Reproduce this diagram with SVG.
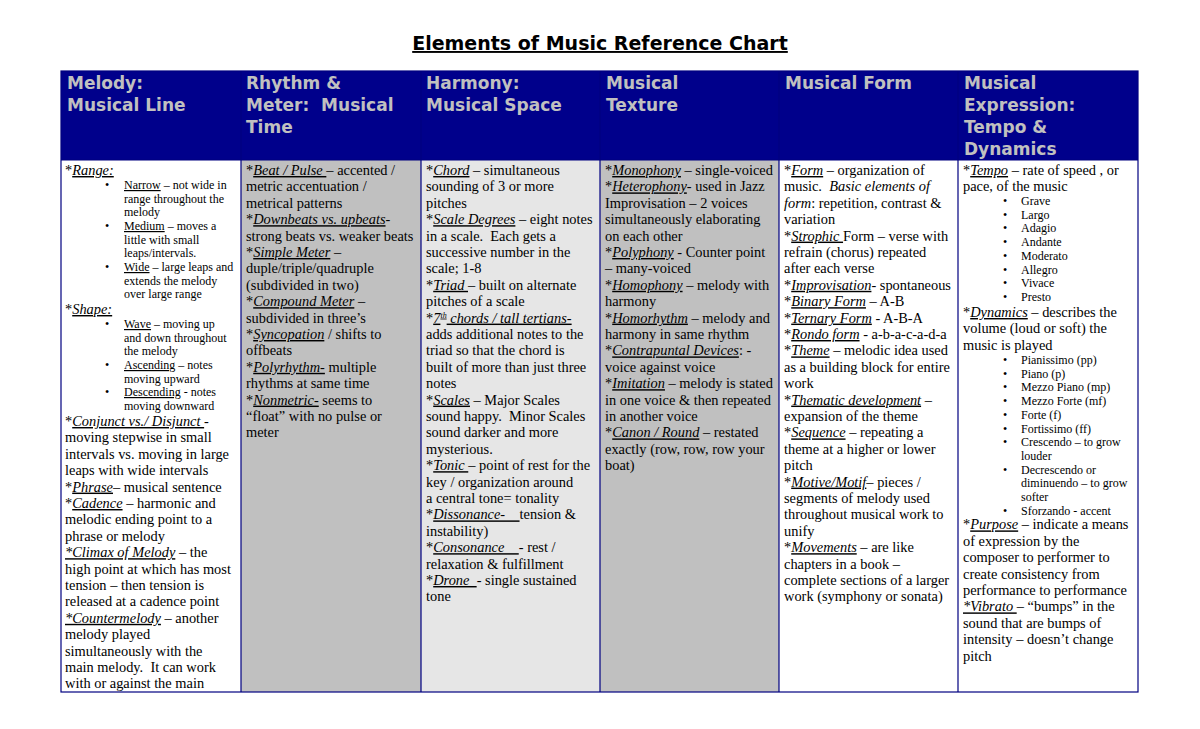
<svg xmlns="http://www.w3.org/2000/svg" width="1200" height="729" viewBox="0 0 1200 729">
<style>
.t{font-family:"Liberation Serif",serif;font-size:14.4px;fill:#000}
.b{font-family:"Liberation Serif",serif;font-size:12px;fill:#000}
.u{font-style:italic;text-decoration:underline}
.n{text-decoration:underline}
.h{font-family:"DejaVu Sans",sans-serif;font-weight:bold;font-size:17px;fill:#c0c0c0}
.ln{stroke:#000080;stroke-width:1.2;fill:none}
</style>
<rect width="1200" height="729" fill="#fff"/>
<text x="600" y="50" text-anchor="middle" font-family="DejaVu Sans,sans-serif" font-weight="bold" font-size="19" text-decoration="underline">Elements of Music Reference Chart</text>
<g id="table">
<rect x="61" y="71" width="1077" height="89" fill="#00008b"/>
<rect x="241" y="160" width="180" height="532" fill="#c0c0c0"/>
<rect x="421" y="160" width="179" height="532" fill="#e6e6e6"/>
<rect x="600" y="160" width="179" height="532" fill="#c0c0c0"/>
<rect x="61" y="71" width="1077" height="621" class="ln"/>
<path class="ln" d="M61 160H1138M241 71V692M421 71V692M600 71V692M779 71V692M958 71V692"/>
</g>
<g id="headers" class="h">
<text x="67" y="89">Melody:</text><text x="67" y="111">Musical Line</text>
<text x="246" y="89">Rhythm &amp;</text><text x="246" y="111">Meter:&#160; Musical</text><text x="246" y="133">Time</text>
<text x="426" y="89">Harmony:</text><text x="426" y="111">Musical Space</text>
<text x="606" y="89">Musical</text><text x="606" y="111">Texture</text>
<text x="785" y="89">Musical Form</text>
<text x="964" y="89">Musical</text><text x="964" y="111">Expression:</text><text x="964" y="133">Tempo &amp;</text><text x="964" y="155">Dynamics</text>
</g>
<g id="melody">
<text class="t" x="65" y="175">*<tspan class="u">Range:</tspan></text>
<g class="b">
<text x="105" y="189">•</text><text x="124" y="189"><tspan class="n">Narrow</tspan> – not wide in</text>
<text x="124" y="203">range throughout the</text>
<text x="124" y="216">melody</text>
<text x="105" y="230">•</text><text x="124" y="230"><tspan class="n">Medium</tspan> – moves a</text>
<text x="124" y="244">little with small</text>
<text x="124" y="257">leaps/intervals.</text>
<text x="105" y="271">•</text><text x="124" y="271"><tspan class="n">Wide</tspan> – large leaps and</text>
<text x="124" y="285">extends the melody</text>
<text x="124" y="298">over large range</text>
</g>
<text class="t" x="65" y="314">*<tspan class="u">Shape:</tspan></text>
<g class="b">
<text x="105" y="328">•</text><text x="124" y="328"><tspan class="n">Wave</tspan> – moving up</text>
<text x="124" y="342">and down throughout</text>
<text x="124" y="355">the melody</text>
<text x="105" y="369">•</text><text x="124" y="369"><tspan class="n">Ascending</tspan> – notes</text>
<text x="124" y="383">moving upward</text>
<text x="105" y="396">•</text><text x="124" y="396"><tspan class="n">Descending</tspan> - notes</text>
<text x="124" y="410">moving downward</text>
</g>
<g class="t">
<text x="65" y="426">*<tspan class="u">Conjunct vs./ Disjunct </tspan> -</text>
<text x="65" y="442.4">moving stepwise in small</text>
<text x="65" y="458.8">intervals vs. moving in large</text>
<text x="65" y="475.2">leaps with wide intervals</text>
<text x="65" y="491.6">*<tspan class="u">Phrase</tspan>– musical sentence</text>
<text x="65" y="508">*<tspan class="u">Cadence</tspan> – harmonic and</text>
<text x="65" y="524.4">melodic ending point to a</text>
<text x="65" y="540.8">phrase or melody</text>
<text x="65" y="557.2"><tspan class="u">*Climax of Melody</tspan> – the</text>
<text x="65" y="573.6">high point at which has most</text>
<text x="65" y="590">tension – then tension is</text>
<text x="65" y="606.4">released at a cadence point</text>
<text x="65" y="622.8"><tspan class="u">*Countermelody</tspan> – another</text>
<text x="65" y="639.2">melody played</text>
<text x="65" y="655.6">simultaneously with the</text>
<text x="65" y="672">main melody.&#160; It can work</text>
<text x="65" y="688.4">with or against the main</text>
</g>
</g>
<g id="rhythm" class="t">
<text x="246" y="175">*<tspan class="u">Beat / Pulse </tspan>– accented /</text>
<text x="246" y="191.4">metric accentuation /</text>
<text x="246" y="207.8">metrical patterns</text>
<text x="246" y="224.2">*<tspan class="u">Downbeats vs. upbeats</tspan>-</text>
<text x="246" y="240.6">strong beats vs. weaker beats</text>
<text x="246" y="257">*<tspan class="u">Simple Meter</tspan> –</text>
<text x="246" y="273.4">duple/triple/quadruple</text>
<text x="246" y="289.8">(subdivided in two)</text>
<text x="246" y="306.2">*<tspan class="u">Compound Meter</tspan> –</text>
<text x="246" y="322.6">subdivided in three’s</text>
<text x="246" y="339">*<tspan class="u">Syncopation</tspan> / shifts to</text>
<text x="246" y="355.4">offbeats</text>
<text x="246" y="371.8">*<tspan class="u">Polyrhythm-</tspan> multiple</text>
<text x="246" y="388.2">rhythms at same time</text>
<text x="246" y="404.6">*<tspan class="u">Nonmetric-</tspan> seems to</text>
<text x="246" y="421">“float” with no pulse or</text>
<text x="246" y="437.4">meter</text>
</g>
<g id="harmony" class="t">
<text x="426" y="175">*<tspan class="u">Chord</tspan> – simultaneous</text>
<text x="426" y="191.4">sounding of 3 or more</text>
<text x="426" y="207.8">pitches</text>
<text x="426" y="224.2">*<tspan class="u">Scale Degrees</tspan> – eight notes</text>
<text x="426" y="240.6">in a scale.&#160; Each gets a</text>
<text x="426" y="257">successive number in the</text>
<text x="426" y="273.4">scale; 1-8</text>
<text x="426" y="289.8">*<tspan class="u">Triad </tspan>– built on alternate</text>
<text x="426" y="306.2">pitches of a scale</text>
<text x="426" y="322.6">*<tspan class="u">7<tspan font-size="8" dy="-5">th</tspan><tspan dy="5"> chords / tall tertians-</tspan></tspan></text>
<text x="426" y="339">adds additional notes to the</text>
<text x="426" y="355.4">triad so that the chord is</text>
<text x="426" y="371.8">built of more than just three</text>
<text x="426" y="388.2">notes</text>
<text x="426" y="404.6">*<tspan class="u">Scales</tspan> – Major Scales</text>
<text x="426" y="421">sound happy.&#160; Minor Scales</text>
<text x="426" y="437.4">sound darker and more</text>
<text x="426" y="453.8">mysterious.</text>
<text x="426" y="470.2">*<tspan class="u">Tonic </tspan>– point of rest for the</text>
<text x="426" y="486.6">key / organization around</text>
<text x="426" y="503">a central tone= tonality</text>
<text x="426" y="519.4">*<tspan class="u">Dissonance-&#160;&#160;&#160;&#160;</tspan>tension &amp;</text>
<text x="426" y="535.8">instability)</text>
<text x="426" y="552.2">*<tspan class="u">Consonance&#160;&#160;&#160;&#160;</tspan>- rest /</text>
<text x="426" y="568.6">relaxation &amp; fulfillment</text>
<text x="426" y="585">*<tspan class="u">Drone&#160;&#160;</tspan>- single sustained</text>
<text x="426" y="601.4">tone</text>
</g>
<g id="texture" class="t">
<text x="605" y="175">*<tspan class="u">Monophony</tspan> – single-voiced</text>
<text x="605" y="191.4">*<tspan class="u">Heterophony</tspan>- used in Jazz</text>
<text x="605" y="207.8">Improvisation – 2 voices</text>
<text x="605" y="224.2">simultaneously elaborating</text>
<text x="605" y="240.6">on each other</text>
<text x="605" y="257">*<tspan class="u">Polyphony</tspan> - Counter point</text>
<text x="605" y="273.4">– many-voiced</text>
<text x="605" y="289.8">*<tspan class="u">Homophony</tspan> – melody with</text>
<text x="605" y="306.2">harmony</text>
<text x="605" y="322.6">*<tspan class="u">Homorhythm</tspan> – melody and</text>
<text x="605" y="339">harmony in same rhythm</text>
<text x="605" y="355.4">*<tspan class="u">Contrapuntal Devices</tspan>: -</text>
<text x="605" y="371.8">voice against voice</text>
<text x="605" y="388.2">*<tspan class="u">Imitation</tspan> – melody is stated</text>
<text x="605" y="404.6">in one voice &amp; then repeated</text>
<text x="605" y="421">in another voice</text>
<text x="605" y="437.4">*<tspan class="u">Canon / Round</tspan> – restated</text>
<text x="605" y="453.8">exactly (row, row, row your</text>
<text x="605" y="470.2">boat)</text>
</g>
<g id="form" class="t">
<text x="784" y="175">*<tspan class="u">Form</tspan> – organization of</text>
<text x="784" y="191.4">music.&#160; <tspan font-style="italic">Basic elements of</tspan></text>
<text x="784" y="207.8"><tspan font-style="italic">form</tspan>: repetition, contrast &amp;</text>
<text x="784" y="224.2">variation</text>
<text x="784" y="240.6">*<tspan class="u">Strophic </tspan>Form – verse with</text>
<text x="784" y="257">refrain (chorus) repeated</text>
<text x="784" y="273.4">after each verse</text>
<text x="784" y="289.8">*<tspan class="u">Improvisation</tspan>- spontaneous</text>
<text x="784" y="306.2">*<tspan class="u">Binary Form</tspan> – A-B</text>
<text x="784" y="322.6">*<tspan class="u">Ternary Form</tspan> - A-B-A</text>
<text x="784" y="339">*<tspan class="u">Rondo form</tspan> - a-b-a-c-a-d-a</text>
<text x="784" y="355.4">*<tspan class="u">Theme</tspan> – melodic idea used</text>
<text x="784" y="371.8">as a building block for entire</text>
<text x="784" y="388.2">work</text>
<text x="784" y="404.6">*<tspan class="u">Thematic development</tspan> –</text>
<text x="784" y="421">expansion of the theme</text>
<text x="784" y="437.4">*<tspan class="u">Sequence</tspan> – repeating a</text>
<text x="784" y="453.8">theme at a higher or lower</text>
<text x="784" y="470.2">pitch</text>
<text x="784" y="486.6">*<tspan class="u">Motive/Motif</tspan>– pieces /</text>
<text x="784" y="503">segments of melody used</text>
<text x="784" y="519.4">throughout musical work to</text>
<text x="784" y="535.8">unify</text>
<text x="784" y="552.2">*<tspan class="u">Movements</tspan> – are like</text>
<text x="784" y="568.6">chapters in a book –</text>
<text x="784" y="585">complete sections of a larger</text>
<text x="784" y="601.4">work (symphony or sonata)</text>
</g>
<g id="expression">
<g class="t">
<text x="963" y="175">*<tspan class="u">Tempo</tspan> – rate of speed , or</text>
<text x="963" y="191.4">pace, of the music</text>
</g>
<g class="b">
<text x="1003" y="205">•</text><text x="1021" y="205">Grave</text>
<text x="1003" y="218.7">•</text><text x="1021" y="218.7">Largo</text>
<text x="1003" y="232.4">•</text><text x="1021" y="232.4">Adagio</text>
<text x="1003" y="246.1">•</text><text x="1021" y="246.1">Andante</text>
<text x="1003" y="259.8">•</text><text x="1021" y="259.8">Moderato</text>
<text x="1003" y="273.5">•</text><text x="1021" y="273.5">Allegro</text>
<text x="1003" y="287.2">•</text><text x="1021" y="287.2">Vivace</text>
<text x="1003" y="300.9">•</text><text x="1021" y="300.9">Presto</text>
</g>
<g class="t">
<text x="963" y="317">*<tspan class="u">Dynamics</tspan> – describes the</text>
<text x="963" y="333.4">volume (loud or soft) the</text>
<text x="963" y="349.8">music is played</text>
</g>
<g class="b">
<text x="1003" y="364">•</text><text x="1021" y="364">Pianissimo (pp)</text>
<text x="1003" y="377.7">•</text><text x="1021" y="377.7">Piano (p)</text>
<text x="1003" y="391.4">•</text><text x="1021" y="391.4">Mezzo Piano (mp)</text>
<text x="1003" y="405.1">•</text><text x="1021" y="405.1">Mezzo Forte (mf)</text>
<text x="1003" y="418.8">•</text><text x="1021" y="418.8">Forte (f)</text>
<text x="1003" y="432.5">•</text><text x="1021" y="432.5">Fortissimo (ff)</text>
<text x="1003" y="446.2">•</text><text x="1021" y="446.2">Crescendo – to grow</text>
<text x="1021" y="459.9">louder</text>
<text x="1003" y="473.6">•</text><text x="1021" y="473.6">Decrescendo or</text>
<text x="1021" y="487.3">diminuendo – to grow</text>
<text x="1021" y="501">softer</text>
<text x="1003" y="514.7">•</text><text x="1021" y="514.7">Sforzando - accent</text>
</g>
<g class="t">
<text x="963" y="529.4">*<tspan class="u">Purpose</tspan> – indicate a means</text>
<text x="963" y="545.8">of expression by the</text>
<text x="963" y="562.2">composer to performer to</text>
<text x="963" y="578.6">create consistency from</text>
<text x="963" y="595">performance to performance</text>
<text x="963" y="611.4"><tspan class="u">*Vibrato </tspan>– “bumps” in the</text>
<text x="963" y="627.8">sound that are bumps of</text>
<text x="963" y="644.2">intensity – doesn’t change</text>
<text x="963" y="660.6">pitch</text>
</g>
</g>
</svg>
